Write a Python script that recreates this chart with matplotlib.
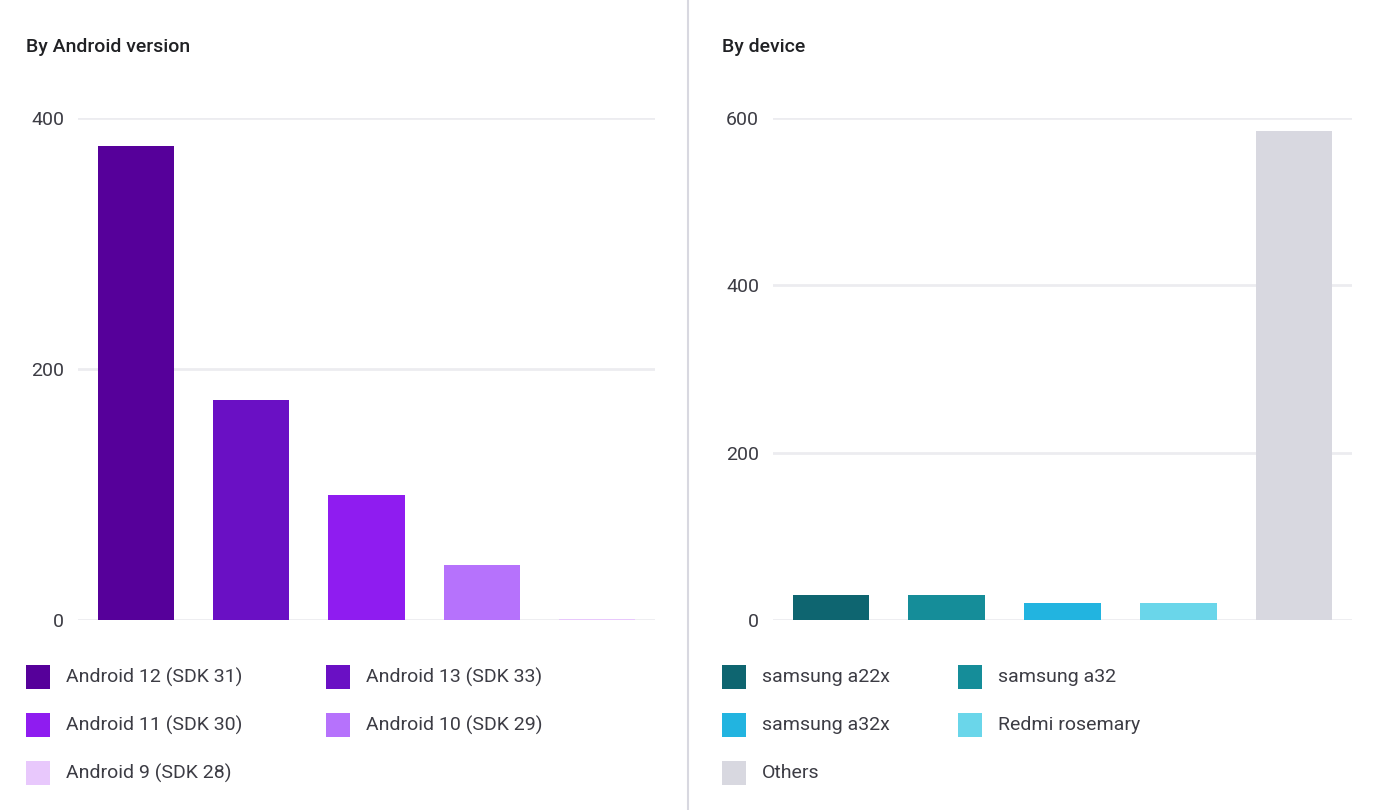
import matplotlib
matplotlib.use("Agg")
import matplotlib.pyplot as plt
from matplotlib.patches import Rectangle
from matplotlib.lines import Line2D

plt.rcParams['font.family'] = ['Roboto', 'DejaVu Sans']

ver_labels = ["Android 12 (SDK 31)", "Android 13 (SDK 33)", "Android 11 (SDK 30)", "Android 10 (SDK 29)", "Android 9 (SDK 28)"]
ver_values = [378, 175, 100, 44, 1]
ver_colors = ["#56009a", "#6a10c4", "#8f1cf0", "#b672fc", "#e8c8fc"]

dev_labels = ["samsung a22x", "samsung a32", "samsung a32x", "Redmi rosemary", "Others"]
dev_values = [30, 30, 20, 20, 584]
dev_colors = ["#0e6570", "#158d99", "#22b4e0", "#6ad6ea", "#d8d8e0"]

W, H = 1374, 810
fig = plt.figure(figsize=(W/100, H/100), dpi=100)

def px_axes(x0, x1, y0, y1):
    return fig.add_axes([x0/W, 1-y1/H, (x1-x0)/W, (y1-y0)/H])

def panel(x0, x1, title, labels, values, colors, ymax, ticks, tx):
    ax = px_axes(x0, x1, 118, 620)
    ax.bar(range(len(values)), values, width=0.66, color=colors, zorder=3)
    ax.set_xlim(-0.5, len(values)-0.5)
    ax.set_ylim(0, ymax)
    ax.set_yticks(ticks)
    ax.set_xticks([])
    for s in ax.spines.values():
        s.set_visible(False)
    ax.grid(axis='y', color='#ececf0', linewidth=2, zorder=0)
    ax.tick_params(axis='y', length=0, labelsize=14, labelcolor='#3c3c44', pad=10)
    fig.text(tx/W, 1-47/H, title, fontsize=14, fontweight='medium', color='#202124', va='center')
    # legend
    col_x = [tx, tx+300 if x0 < 600 else tx+236]
    for i, (lab, c) in enumerate(zip(labels, colors)):
        r, k = divmod(i, 2)
        lx = col_x[k]
        ly = 677 + r*48
        fig.patches.append(Rectangle((lx/W, 1-(ly+12)/H), 24/W, 24/H, transform=fig.transFigure,
                                     facecolor=c, edgecolor='none'))
        fig.text((lx+40)/W, 1-ly/H, lab, fontsize=14, color='#3c3c44', va='center')

panel(78, 655, "By Android version", ver_labels, ver_values, ver_colors, 400, [0, 200, 400], 26)
panel(773, 1352, "By device", dev_labels, dev_values, dev_colors, 600, [0, 200, 400, 600], 722)

fig.add_artist(Line2D([688/W, 688/W], [0, 1], transform=fig.transFigure, color='#d8d8e0', linewidth=1.5))

fig.savefig("out.png", dpi=100, facecolor='white')
